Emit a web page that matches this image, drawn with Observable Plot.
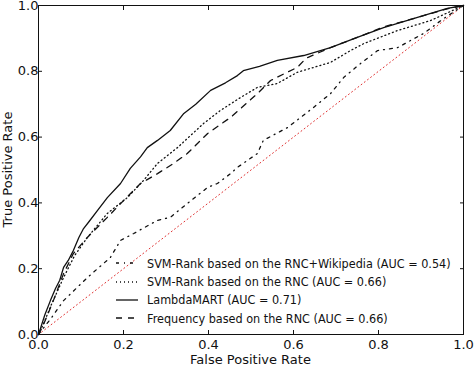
<!DOCTYPE html>
<html><head><meta charset="utf-8">
<script src="https://cdn.jsdelivr.net/npm/d3@7"></script>
<script src="https://cdn.jsdelivr.net/npm/@observablehq/plot@0.6"></script>
<style>
body{margin:0;background:#fff;}
#wrap{position:relative;width:474px;height:366px;overflow:hidden;font-family:"DejaVu Sans",sans-serif;}
#legend{position:absolute;left:116px;top:254px;font-size:12.5px;color:#111;white-space:nowrap;}
#legend .row{display:flex;align-items:center;height:18.4px;}
#legend svg{margin-right:9px;}
#legend span{display:inline-block;transform:scaleX(0.9);transform-origin:left center;}
</style>
</head><body><div id="wrap"></div>
<script>
const ticks = [0, 0.2, 0.4, 0.6, 0.8, 1.0];
const xLabel = "False Positive Rate";
const yLabel = "True Positive Rate";

const lmFpr = [0,0.005,0.015,0.028,0.04,0.05,0.059,0.07,0.082,0.095,0.106,0.12,0.139,0.162,0.193,0.216,0.24,0.256,0.28,0.31,0.342,0.37,0.405,0.44,0.468,0.482,0.52,0.562,0.624,0.687,0.75,0.812,0.882,0.962,1];
const lmTpr = [0,0.02,0.06,0.103,0.14,0.165,0.204,0.225,0.255,0.295,0.322,0.345,0.377,0.416,0.459,0.505,0.54,0.568,0.59,0.62,0.672,0.7,0.742,0.765,0.787,0.802,0.815,0.833,0.848,0.872,0.903,0.933,0.96,0.991,1];

const frFpr = [0,0.008,0.016,0.035,0.059,0.082,0.115,0.162,0.2,0.24,0.28,0.318,0.35,0.398,0.452,0.515,0.546,0.609,0.63,0.687,0.75,0.812,0.882,0.962,1];
const frTpr = [0,0.02,0.043,0.103,0.185,0.246,0.295,0.356,0.407,0.459,0.489,0.52,0.55,0.611,0.66,0.732,0.772,0.812,0.84,0.872,0.903,0.935,0.96,0.99,1];

const rncFpr = [0,0.012,0.03,0.059,0.085,0.115,0.162,0.209,0.247,0.28,0.327,0.388,0.428,0.475,0.515,0.562,0.609,0.687,0.734,0.765,0.845,0.922,1];
const rncTpr = [0,0.033,0.09,0.173,0.24,0.295,0.368,0.416,0.468,0.52,0.568,0.641,0.681,0.72,0.751,0.763,0.797,0.827,0.863,0.884,0.924,0.954,1];

const wikiFpr = [0,0.03,0.059,0.115,0.169,0.193,0.224,0.28,0.31,0.35,0.398,0.421,0.452,0.468,0.515,0.529,0.586,0.647,0.687,0.718,0.758,0.798,0.845,0.906,0.953,1];
const wikiTpr = [0,0.05,0.103,0.173,0.234,0.286,0.307,0.347,0.356,0.398,0.447,0.459,0.489,0.508,0.55,0.59,0.629,0.69,0.732,0.781,0.824,0.863,0.872,0.915,0.96,1];

const chanceFpr = [0, 1];
const chanceTpr = [0, 1];

const series = [
  {name: "SVM-Rank based on the RNC+Wikipedia (AUC = 0.54)", fpr: wikiFpr, tpr: wikiTpr, dash: "3,5,1,5"},
  {name: "SVM-Rank based on the RNC (AUC = 0.66)", fpr: rncFpr, tpr: rncTpr, dash: "1,3"},
  {name: "LambdaMART (AUC = 0.71)", fpr: lmFpr, tpr: lmTpr, dash: null},
  {name: "Frequency based on the RNC (AUC = 0.66)", fpr: frFpr, tpr: frTpr, dash: "6,6"}
];

const toRows = s => s.fpr.map((x, i) => ({x, y: s.tpr[i]}));
const chance = chanceFpr.map((x, i) => ({x, y: chanceTpr[i]}));
const fmt = d3.format(".1f");
const none = () => "";

const marks = [
  Plot.line(chance, {x: "x", y: "y", stroke: "#e03030", strokeWidth: 1, strokeDasharray: "1,3"}),
  ...series.map(s => Plot.line(toRows(s), {x: "x", y: "y", stroke: "#111", strokeWidth: 1.3, strokeDasharray: s.dash})),
  Plot.axisX({anchor: "bottom", ticks, tickFormat: fmt, tickSize: -4, tickPadding: 9, fontSize: 13, label: null}),
  Plot.axisX({anchor: "top", ticks, tickFormat: none, tickSize: -4, label: null}),
  Plot.axisY({anchor: "left", ticks, tickFormat: fmt, tickSize: -4, tickPadding: 4, fontSize: 13, label: null}),
  Plot.axisY({anchor: "right", ticks, tickFormat: none, tickSize: -4, label: null}),
  Plot.frame({stroke: "#111", strokeWidth: 1})
];

const chart = Plot.plot({
  width: 474, height: 366,
  marginLeft: 38, marginRight: 11, marginTop: 5, marginBottom: 32,
  x: {domain: [0, 1]},
  y: {domain: [0, 1]},
  style: {fontFamily: "DejaVu Sans, sans-serif", color: "#111", background: "#fff", overflow: "visible"},
  marks
});
const wrap = document.getElementById("wrap");
wrap.appendChild(chart);

// axis titles
const svg = d3.select(chart);
svg.append("text").attr("x", (38 + 463) / 2).attr("y", 364).attr("text-anchor", "middle")
  .attr("font-size", 13).attr("fill", "#111").text(xLabel);
svg.append("text").attr("transform", `translate(12,${(5 + 334) / 2}) rotate(-90)`).attr("text-anchor", "middle")
  .attr("font-size", 13).attr("fill", "#111").text(yLabel);

// legend
const leg = d3.select(wrap).append("div").attr("id", "legend");
series.forEach(s => {
  const row = leg.append("div").attr("class", "row");
  const sv = row.append("svg").attr("width", 22).attr("height", 10);
  sv.append("line").attr("x1", 0).attr("x2", 22).attr("y1", 5).attr("y2", 5)
    .attr("stroke", "#111").attr("stroke-width", 1.3).attr("stroke-dasharray", s.dash);
  row.append("span").text(s.name);
});
</script></body></html>
